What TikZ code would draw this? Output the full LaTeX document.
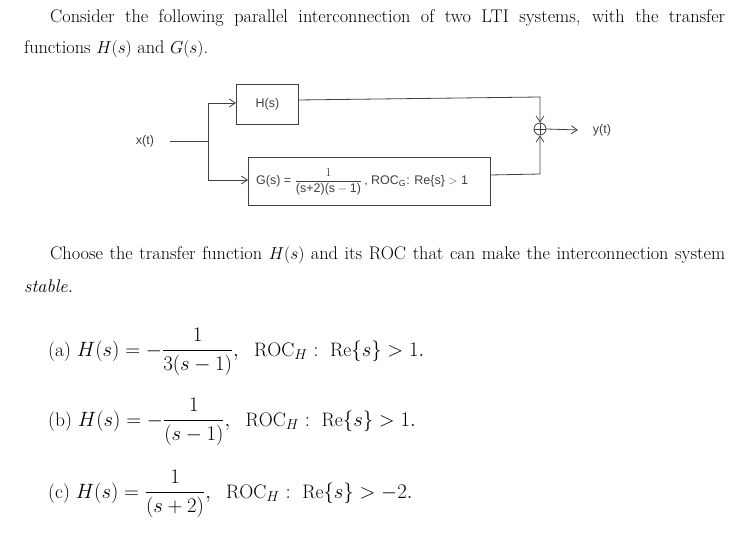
\documentclass[tikz,border=0pt]{standalone}
\usepackage{amsmath}
\usepackage{fontspec}
\newfontfamily\hand{Liberation Sans}
\usetikzlibrary{arrows.meta}
\begin{document}
\begin{tikzpicture}[x=1pt,y=-1pt,
  txt/.style={anchor=base west,inner sep=0pt,font=\fontsize{18.3}{22}\selectfont},
  opt/.style={anchor=base west,inner sep=0pt,font=\fontsize{19.5}{23}\selectfont},
  hw/.style={font=\hand\fontsize{12.5}{15}\selectfont,text=black!75,inner sep=1pt},
  blk/.style={draw=black!75,line width=0.8pt},
  ln/.style={draw=black!75,line width=0.8pt},
  arr/.style={ln,-{Straight Barb[length=6pt,width=8pt]}}]
\useasboundingbox (0,0) rectangle (743,534);
\node[txt] (l1) at (50,23) {\makebox[675pt][s]{Consider the following parallel interconnection of two LTI systems, with the transfer}};
\node[txt] (l2) at (24,54) {functions $H(s)$ and $G(s)$.};
% diagram
\node[blk,minimum width=62pt,minimum height=40pt,anchor=north west] (H) at (236,84) {};
\node[hw] at (H.center) {H(s)};
\node[blk,minimum width=242pt,minimum height=48pt,anchor=north west] (G) at (248,157) {};
\node[hw,anchor=west] (gt) at (255,182) {G(s) = $\dfrac{1}{\text{(s+2)(s}-\text{1)}}$\,, ROC$_\text{G}$: Re\{s\} $>$ 1};
\node[hw] (x) at (145,141) {x(t)};
\coordinate (b) at (208,141);
\draw[ln] (170,141) -- (b);
\draw[ln] (208,103) -- (208,180);
\draw[arr] (208,103) -- (H.west|-0,103);
\draw[arr] (208,180) -- (G.west|-0,180);
\node[circle,draw=black!75,line width=0.8pt,minimum size=12pt,inner sep=0pt] (S) at (540,129) {};
\draw[ln] (S.north) -- (S.south) (S.west) -- (S.east);
\draw[arr] (298,100) -- (540,97) -- (S.north);
\draw[arr] (490,175) -- (540,174) -- (S.south);
\node[hw] (y) at (602,130) {y(t)};
\draw[arr] (S.east) -- (578,130);
% question
\node[txt] (q1) at (50,260) {\makebox[675pt][s]{Choose the transfer function $H(s)$ and its ROC that can make the interconnection system}};
\node[txt] (q2) at (24,292) {\textit{stable.}};
\node[opt] (a) at (48,356) {(a) $H(s)=-\dfrac{1}{3(s-1)},\ \ \mathrm{ROC}_H:\ \mathrm{Re}\{s\}>1.$};
\node[opt] (bb) at (48,426) {(b) $H(s)=-\dfrac{1}{(s-1)},\ \ \mathrm{ROC}_H:\ \mathrm{Re}\{s\}>1.$};
\node[opt] (c) at (48,498) {(c) $H(s)=\dfrac{1}{(s+2)},\ \ \mathrm{ROC}_H:\ \mathrm{Re}\{s\}>-2.$};
\end{tikzpicture}
\end{document}
